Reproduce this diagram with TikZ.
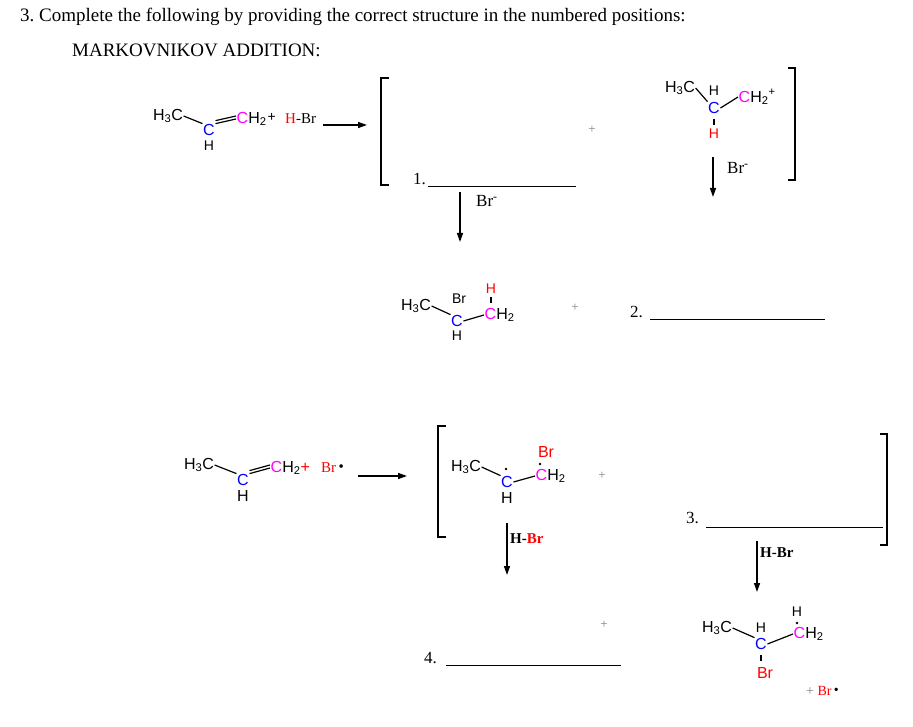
\documentclass[tikz,border=0pt]{standalone}
\usepackage{fontspec}
\setmainfont{Liberation Serif}
\newfontfamily\chemsans{Liberation Sans}
\usetikzlibrary{arrows.meta}
\definecolor{cblue}{RGB}{0,0,255}
\definecolor{cmag}{RGB}{255,0,255}
\definecolor{cred}{RGB}{255,0,0}
\newcommand{\rdot}{\raisebox{0.15ex}{\textbullet}}
\begin{document}
\begin{tikzpicture}[x=1pt,y=-1pt,
  ch/.style={inner sep=0.5pt,font=\chemsans\fontsize{16}{16}\selectfont},
  sm/.style={inner sep=0.3pt,font=\chemsans\fontsize{14}{14}\selectfont},
  tx/.style={inner sep=0pt,anchor=base west,font=\fontsize{19}{19}\selectfont},
  lb/.style={inner sep=0pt,anchor=base west,font=\fontsize{17}{17}\selectfont},
  bd/.style={line width=1.2pt},
  arr/.style={line width=1.4pt,-{Triangle[length=9pt,width=6pt]}},
  brk/.style={line width=1.8pt},
  ul/.style={line width=0.9pt},
  pl/.style={inner sep=0pt,text=gray,font=\fontsize{13}{13}\selectfont}]
\useasboundingbox (0,0) rectangle (913,727);
\node[tx] (title) at (20,22) {3.\ Complete the following by providing the correct structure in the numbered positions:};
\node[tx] (mk) at (72,57) {MARKOVNIKOV ADDITION:};
% molecule 1
\node[ch] (a1) at (168,116) {H\textsubscript{3}C};
\node[ch,text=cblue] (a2) at (209,130) {C};
\node[sm] (a3) at (209,146) {H};
\node[ch,anchor=west] (a4) at (236,119) {\textcolor{cmag}{C}H\textsubscript{2}};
\node[sm,anchor=west] (a5) at (267,117) {+};
\node[lb,anchor=west] (a6) at (285,119) {\fontsize{15}{15}\selectfont\textcolor{cred}{H}-Br};
\draw[bd] (a1.east) -- (a2.north west);
\draw[bd] (a2.north east) -- (a4.west);
\draw[bd] ([yshift=3pt]a2.north east) -- ([yshift=3pt]a4.west);
\coordinate (r1s) at (323,125); \coordinate (r1e) at (367,125);
\draw[arr] (r1s) -- (r1e);
% bracket 1
\draw[brk] (389,78) -- (381,78) -- (381,185) -- (389,185);
\node[lb] (n1) at (413,185) {1.};
\coordinate (u1a) at (428,186); \coordinate (u1b) at (576,186);
\draw[ul] (u1a) -- (u1b);
\coordinate (d1s) at (460,192); \coordinate (d1e) at (460,242);
\draw[arr] (d1s) -- (d1e);
\node[lb] (b1) at (476,207) {Br\textsuperscript{-}};
\node[pl] (p1) at (592,130) {+};
% molecule 2 (cation)
\node[ch] (c1) at (680,88) {H\textsubscript{3}C};
\node[sm] (c2) at (714,91) {H};
\node[ch,text=cblue] (c3) at (714,108) {C};
\node[sm,text=cred] (c4) at (714,134) {H};
\node[ch,anchor=west] (c5) at (738,97) {\textcolor{cmag}{C}H\textsubscript{2}\textsuperscript{+}};
\draw[bd] (c1.east) -- (c3.north west);
\draw[bd] (c3.east) -- (c5.west);
\draw[bd] (714,119) -- (714,125);
\draw[brk] (788,68) -- (795,68) -- (795,180) -- (788,180);
\coordinate (d2s) at (713,157); \coordinate (d2e) at (713,197);
\draw[arr] (d2s) -- (d2e);
\node[lb] (b2) at (727,174) {Br\textsuperscript{-}};
% middle product
\node[ch] (m1) at (416,306) {H\textsubscript{3}C};
\node[sm] (m2) at (459,299) {Br};
\node[ch,text=cblue] (m3) at (457,321) {C};
\node[sm] (m4) at (457,336) {H};
\node[sm,text=cred] (m5) at (491,289) {H};
\node[ch,anchor=west] (m6) at (484,315) {\textcolor{cmag}{C}H\textsubscript{2}};
\draw[bd] (m1.east) -- (m3.north west);
\draw[bd] (m3.east) -- (m6.west);
\draw[bd] (491,297) -- (491,303);
\node[pl] (p2) at (575,308) {+};
\node[lb] (n2) at (630,318) {2.};
\coordinate (u2a) at (650,319); \coordinate (u2b) at (825,319);
\draw[ul] (u2a) -- (u2b);
% bottom molecule
\node[ch] (e1) at (199,465) {H\textsubscript{3}C};
\node[ch,text=cblue] (e2) at (243,480) {C};
\node[ch] (e3) at (243,496) {H};
\node[ch,anchor=west] (e4) at (270,468) {\textcolor{cmag}{C}H\textsubscript{2}\textcolor{cred}{+}};
\node[lb,anchor=west,text=cred] (e5) at (321,468) {\fontsize{15}{15}\selectfont Br\,\textcolor{black}{\rdot}};
\draw[bd] (e1.east) -- (e2.north west);
\draw[bd] (e2.north east) -- (e4.west);
\draw[bd] ([yshift=3pt]e2.north east) -- ([yshift=3pt]e4.west);
\coordinate (r2s) at (358,476); \coordinate (r2e) at (407,476);
\draw[arr] (r2s) -- (r2e);
\draw[brk] (446,426) -- (438,426) -- (438,537) -- (446,537);
\node[ch] (f1) at (466,467) {H\textsubscript{3}C};
\node[ch,text=cblue] (f2) at (507,482) {C};
\node[ch] (f3) at (507,498) {H};
\node[ch,anchor=west] (f4) at (535,476) {\textcolor{cmag}{C}H\textsubscript{2}};
\node[ch,text=cred] (f5) at (546,452) {Br};
\draw[bd] (f1.east) -- (f2.north west);
\draw[bd] (f2.east) -- (f4.west);
\fill (506,469) circle (1.4pt);
\fill (540,464) circle (1.4pt);
\node[pl] (p3) at (602,476) {+};
\coordinate (d3s) at (507,523); \coordinate (d3e) at (507,575);
\draw[arr] (d3s) -- (d3e);
\node[lb,font=\bfseries\fontsize{15}{15}\selectfont] (hb1) at (510,543) {H-\textcolor{cred}{Br}};
\node[lb] (n3) at (686,523) {3.};
\coordinate (u3a) at (706,527); \coordinate (u3b) at (883,527);
\draw[ul] (u3a) -- (u3b);
\draw[brk] (880,434) -- (887,434) -- (887,545) -- (880,545);
\coordinate (d4s) at (757,541); \coordinate (d4e) at (757,592);
\draw[arr] (d4s) -- (d4e);
\node[lb,font=\bfseries\fontsize{15}{15}\selectfont] (hb2) at (760,557) {H-Br};
% final product
\node[ch] (g1) at (717,628) {H\textsubscript{3}C};
\node[sm] (g2) at (761,628) {H};
\node[ch,text=cblue] (g3) at (761,644) {C};
\node[ch,text=cred] (g4) at (765,673) {Br};
\node[sm] (g5) at (797,612) {H};
\node[ch,anchor=west] (g6) at (793,634) {\textcolor{cmag}{C}H\textsubscript{2}};
\draw[bd] (g1.east) -- (g3.north west);
\draw[bd] (g3.east) -- (g6.west);
\draw[bd] (761,655) -- (761,661);
\fill (797,623) circle (1.4pt);
\node[lb,anchor=base west] (g7) at (806,695) {\fontsize{14}{14}\selectfont\textcolor{gray}{+} \textcolor{cred}{Br}\,\rdot};
\node[pl] (p4) at (604,625) {+};
\node[lb] (n4) at (424,663) {4.};
\coordinate (u4a) at (446,665); \coordinate (u4b) at (621,665);
\draw[ul] (u4a) -- (u4b);
\end{tikzpicture}
\end{document}
